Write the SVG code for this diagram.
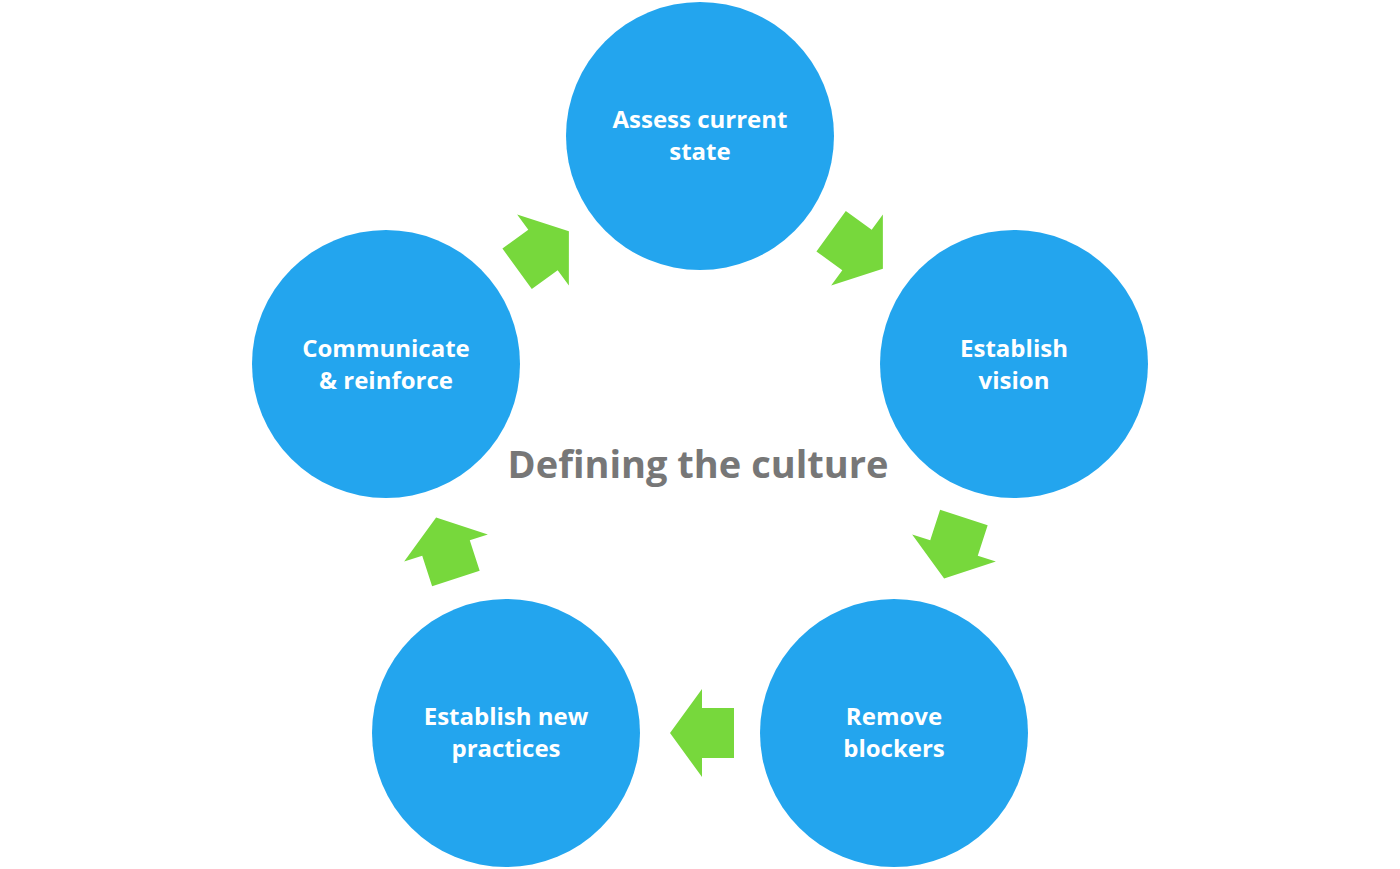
<svg xmlns="http://www.w3.org/2000/svg" width="1400" height="869" viewBox="0 0 1400 869">
<style>
.n{fill:#23a5ee}
.t{fill:#fff;font-family:"Open Sans",sans-serif;font-weight:bold;font-size:24px;text-anchor:middle}
.a{fill:#77d83c}
</style>
<defs><polygon id="arr" points="-32,0 0,-44 0,-25 32,-25 32,25 0,25 0,44"/></defs>
<rect width="1400" height="869" fill="#fff"/>
<g id="connectors">
<use href="#arr" class="a" transform="translate(702,733)"/>
<use href="#arr" class="a" transform="translate(954,548) rotate(-72)"/>
<use href="#arr" class="a" transform="translate(857,250) rotate(-144)"/>
<use href="#arr" class="a" transform="translate(446,548) rotate(72)"/>
<use href="#arr" class="a" transform="translate(543,250) rotate(144)"/>
</g>
<g id="assess"><circle class="n" cx="700" cy="136" r="134"/><text class="t" x="700" y="128">Assess current</text><text class="t" x="700" y="160">state</text></g>
<g id="vision"><circle class="n" cx="1014" cy="364" r="134"/><text class="t" x="1014" y="357">Establish</text><text class="t" x="1014" y="389">vision</text></g>
<g id="remove"><circle class="n" cx="894" cy="733" r="134"/><text class="t" x="894" y="725">Remove</text><text class="t" x="894" y="757">blockers</text></g>
<g id="practices"><circle class="n" cx="506" cy="733" r="134"/><text class="t" x="506" y="725">Establish new</text><text class="t" x="506" y="757">practices</text></g>
<g id="communicate"><circle class="n" cx="386" cy="364" r="134"/><text class="t" x="386" y="357">Communicate</text><text class="t" x="386" y="389">&amp; reinforce</text></g>
<text x="698" y="478" fill="#777" font-family="Open Sans,sans-serif" font-weight="bold" font-size="38" text-anchor="middle">Defining the culture</text>
</svg>
